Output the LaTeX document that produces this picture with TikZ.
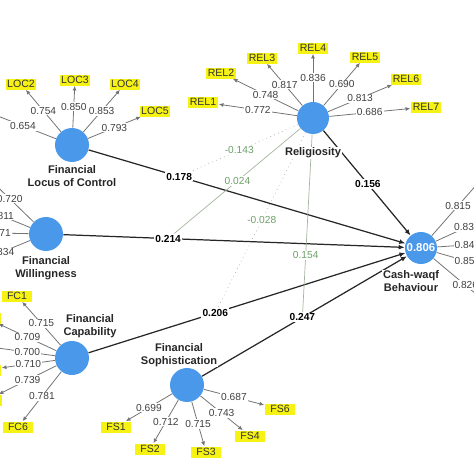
\documentclass[tikz,border=0pt]{standalone}
\usepackage{fontspec}
\setmainfont{Liberation Sans}
\usepackage{xcolor}
\usetikzlibrary{arrows.meta, positioning, calc}
\definecolor{lvblue}{RGB}{74,152,234}
\definecolor{itemyellow}{RGB}{246,242,20}
\definecolor{modgreen}{RGB}{110,160,105}
\definecolor{modline}{RGB}{165,180,160}
\tikzset{
    construct/.style={
        circle,
        fill=lvblue,
        minimum size=0.68cm,
        inner sep=0pt
    },
    cname/.style={
        font=\bfseries\fontsize{6.3}{7.4}\selectfont,
        align=center,
        text=black!85,
        fill=white,
        inner sep=0.5pt
    },
    item/.style={
        rectangle,
        fill=itemyellow,
        minimum width=0.62cm,
        minimum height=0.22cm,
        inner sep=0.5pt,
        font=\fontsize{6}{6}\selectfont,
        text=black!80
    },
    outerwire/.style={
        draw=black!55,
        line width=0.45pt,
        -{Latex[length=2.6pt,width=2.3pt]}
    },
    loadval/.style={
        fill=white,
        inner sep=0.6pt,
        font=\fontsize{5.8}{6}\selectfont,
        text=black!75
    },
    pathwire/.style={
        draw=black!85,
        line width=0.7pt,
        -{Latex[length=3.4pt,width=2.8pt]}
    },
    pathval/.style={
        fill=white,
        inner sep=0.6pt,
        font=\bfseries\fontsize{5.8}{6}\selectfont
    },
    modwire/.style={
        draw=modline,
        line width=0.4pt
    },
    modval/.style={
        fill=white,
        inner sep=0.6pt,
        font=\fontsize{5.8}{6}\selectfont,
        text=modgreen
    }
}

\begin{document}
\begin{tikzpicture}[x=0.02cm, y=-0.02cm]
\useasboundingbox (0,0) rectangle (474,474);
\clip (0,0) rectangle (474,474);

% Constructs
\node[construct] (loc) at (72,145) {};
\node[construct, minimum size=0.64cm] (rel) at (313,118) {};
\node[construct] (will) at (46,234) {};
\node[construct] (cap) at (72,358) {};
\node[construct] (soph) at (187,385) {};
\node[construct, minimum size=0.64cm, text=white, font=\bfseries\fontsize{6.5}{7}\selectfont] (cash) at (421,248) {0.806};

% Locus of control items
\coordinate (loc1) at (-10,113);
\node[item] (loc2) at (21,84) {LOC2};
\node[item] (loc3) at (75,80) {LOC3};
\node[item] (loc4) at (125,84) {LOC4};
\node[item] (loc5) at (155,111) {LOC5};
\draw[outerwire] (loc) -- node[loadval] {0.654} (loc1);
\draw[outerwire] (loc) -- node[loadval] {0.754} (loc2);
\draw[outerwire] (loc) -- node[loadval] {0.850} (loc3);
\draw[outerwire] (loc) -- node[loadval] {0.853} (loc4);
\draw[outerwire] (loc) -- node[loadval] {0.793} (loc5);

% Religiosity items
\node[item] (rel1) at (203,102) {REL1};
\node[item] (rel2) at (221,73) {REL2};
\node[item] (rel3) at (262,58) {REL3};
\node[item] (rel4) at (313,48) {REL4};
\node[item] (rel5) at (365,57) {REL5};
\node[item] (rel6) at (406,79) {REL6};
\node[item] (rel7) at (426,107) {REL7};
\draw[outerwire] (rel) -- node[loadval] {0.772} (rel1);
\draw[outerwire] (rel) -- node[loadval] {0.748} (rel2);
\draw[outerwire] (rel) -- node[loadval] {0.817} (rel3);
\draw[outerwire] (rel) -- node[loadval] {0.836} (rel4);
\draw[outerwire] (rel) -- node[loadval] {0.690} (rel5);
\draw[outerwire] (rel) -- node[loadval] {0.813} (rel6);
\draw[outerwire] (rel) -- node[loadval] {0.686} (rel7);

% Willingness items
\coordinate (fw1) at (-26,164);
\coordinate (fw2) at (-47,196);
\coordinate (fw3) at (-54,232);
\coordinate (fw4) at (-47,272);
\draw[outerwire] (will) -- node[loadval, pos=0.40] {0.720} (fw1);
\draw[outerwire] (will) -- node[loadval, pos=0.37] {0.811} (fw2);
\draw[outerwire] (will) -- node[loadval, pos=0.37] {0.771} (fw3);
\draw[outerwire] (will) -- node[loadval, pos=0.37] {0.834} (fw4);

% Capability items
\node[item] (fc1) at (17,296) {FC1};
\node[item] (fc2) at (-14,318) {FC2};
\coordinate (fc3) at (-40,343);
\node[item] (fc4) at (-14,370) {FC4};
\node[item] (fc5) at (-13,400) {FC5};
\node[item] (fc6) at (18,427) {FC6};
\draw[outerwire] (cap) -- node[loadval] {0.715} (fc1);
\draw[outerwire] (cap) -- node[loadval] {0.709} (fc2);
\draw[outerwire] (cap) -- node[loadval, pos=0.29] {0.700} (fc3);
\draw[outerwire] (cap) -- node[loadval] {0.710} (fc4);
\draw[outerwire] (cap) -- node[loadval] {0.739} (fc5);
\draw[outerwire] (cap) -- node[loadval] {0.781} (fc6);

% Sophistication items
\node[item] (fs1) at (116,427) {FS1};
\node[item] (fs2) at (150,449) {FS2};
\node[item] (fs3) at (206,452) {FS3};
\node[item] (fs4) at (250,436) {FS4};
\node[item] (fs6) at (280,409) {FS6};
\draw[outerwire] (soph) -- node[loadval] {0.699} (fs1);
\draw[outerwire] (soph) -- node[loadval] {0.712} (fs2);
\draw[outerwire] (soph) -- node[loadval] {0.715} (fs3);
\draw[outerwire] (soph) -- node[loadval] {0.743} (fs4);
\draw[outerwire] (soph) -- node[loadval] {0.687} (fs6);

% Cash-waqf items (cut at the edge)
\coordinate (cw1) at (500,158);
\coordinate (cw2) at (530,198);
\coordinate (cw3) at (541,240);
\coordinate (cw4) at (536,281);
\coordinate (cw5) at (513,325);
\draw[outerwire] (cash) -- node[loadval, pos=0.385] {0.815} (cw1);
\draw[outerwire] (cash) -- node[loadval, pos=0.33] {0.832} (cw2);
\draw[outerwire] (cash) -- node[loadval, pos=0.29] {0.848} (cw3);
\draw[outerwire] (cash) -- node[loadval, pos=0.31] {0.851} (cw4);
\draw[outerwire] (cash) -- node[loadval, pos=0.40] {0.826} (cw5);

% Structural paths
\draw[pathwire] (loc) -- node[pathval, pos=0.286] (p_loc) {0.178} (cash);
\draw[pathwire] (will) -- node[pathval, pos=0.307] (p_will) {0.214} (cash);
\draw[pathwire] (cap) -- node[pathval, pos=0.40] (p_cap) {0.206} (cash);
\draw[pathwire] (soph) -- node[pathval, pos=0.49] (p_soph) {0.247} (cash);
\draw[pathwire] (rel) -- node[pathval, pos=0.51] (p_rel) {0.156} (cash);

% Moderating effects
\draw[modwire, dotted] (rel) -- node[modval, pos=0.55] {-0.143} (p_loc);
\draw[modwire] (rel) -- node[modval] {0.024} (p_will);
\draw[modwire, dotted] (rel) -- node[modval] {-0.028} (p_cap);
\draw[modwire] (rel) -- node[modval, pos=0.68] {0.154} (p_soph);

% Construct names
\node[cname, below=1pt of loc] {Financial\\Locus of Control};
\node[cname, below=7pt of rel] {Religiosity};
\node[cname, below=2pt of will] {Financial\\Willingness};
\node[cname, above=1pt of cap, xshift=0.36cm] {Financial\\Capability};
\node[cname, above=0pt of soph, xshift=-0.16cm] {Financial\\Sophistication};
\node[cname, below=3pt of cash, xshift=-0.2cm] {Cash-waqf\\Behaviour};

\end{tikzpicture}
\end{document}
